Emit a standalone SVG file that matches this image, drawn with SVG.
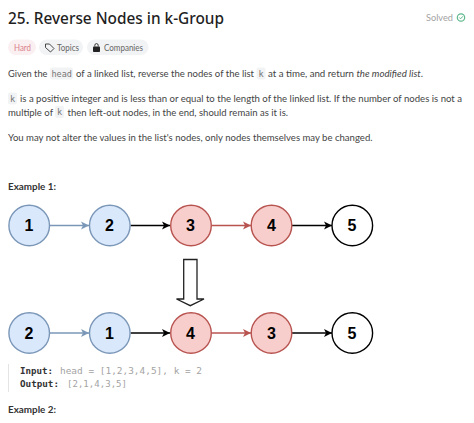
<svg xmlns="http://www.w3.org/2000/svg" width="474" height="423" viewBox="0 0 474 423">
<style>
text{font-family:"Lato","Noto Sans","Liberation Sans",sans-serif}
.b{font-size:10.4px;fill:#444}
.c{font-family:"DejaVu Sans Mono","Liberation Mono",monospace;font-size:8.6px;fill:#777}
.chip{fill:#f2f3f4}
.s{font-size:8.8px;fill:#666}
.bl circle{fill:#dae8fc;stroke:#7b97b8;stroke-width:1.4}
.rd circle{fill:#f8cecc;stroke:#b85450;stroke-width:1.4}
.wh circle{fill:#fff;stroke:#000;stroke-width:1.4}
text.n{font-family:"Liberation Sans",Arial,sans-serif;font-size:16px;font-weight:700;fill:#000;text-anchor:middle}
.ex{font-size:9.8px;font-weight:700;fill:#333}
.m{font-family:"DejaVu Sans Mono","Liberation Mono",monospace;font-size:9.45px;fill:#a3a3a3}
.mb{font-family:"DejaVu Sans Mono","Liberation Mono",monospace;font-size:9.2px;font-weight:700;fill:#333}
.l{fill:none;stroke-width:1.3}
</style>
<defs>
<marker id="ak" markerUnits="userSpaceOnUse" markerWidth="9" markerHeight="10" refX="8" refY="5" orient="auto"><path d="M0 1L8 5L0 9L2 5Z" fill="#000"/></marker>
<marker id="ab" markerUnits="userSpaceOnUse" markerWidth="9" markerHeight="10" refX="8" refY="5" orient="auto"><path d="M0 1L8 5L0 9L2 5Z" fill="#7b97b8"/></marker>
<marker id="ar" markerUnits="userSpaceOnUse" markerWidth="9" markerHeight="10" refX="8" refY="5" orient="auto"><path d="M0 1L8 5L0 9L2 5Z" fill="#b85450"/></marker>
</defs>
<rect width="474" height="423" fill="#fff"/>
<text x="8" y="24" textLength="216" lengthAdjust="spacingAndGlyphs" style="font-size:16.5px;font-weight:500;font-family:'Noto Sans','Lato',sans-serif" fill="#1f1f1f">25. Reverse Nodes in k-Group</text>
<text x="426" y="21" textLength="27" lengthAdjust="spacingAndGlyphs" style="font-size:9.5px" fill="#a3a3a3">Solved</text>
<circle cx="461" cy="17.500" r="3.700" fill="none" stroke="#5cb88a" stroke-width="1.200"/>
<path d="M459.300 17.500l1.300 1.300l2.300-2.500" fill="none" stroke="#5cb88a" stroke-width="1"/>
<rect x="8" y="39.500" width="28" height="15.500" rx="7.700" fill="#fbf0f1"/>
<text class="s" x="14" y="51" textLength="17" lengthAdjust="spacingAndGlyphs" style="fill:#d9808a">Hard</text>
<rect x="39" y="39.500" width="44" height="15.500" rx="7.700" class="chip"/>
<path d="M45.500 44h4l4.500 4.500l-3.500 3.500l-5-4.500Z" fill="none" stroke="#333" stroke-width=".9"/>
<text class="s" x="57" y="51" textLength="22" lengthAdjust="spacingAndGlyphs">Topics</text>
<rect x="87" y="39.500" width="61.500" height="15.500" rx="7.700" class="chip"/>
<rect x="93" y="46.500" width="7" height="5.500" rx=".8" fill="#222"/>
<path d="M94.800 46.500v-1.200a1.700 1.700 0 0 1 3.400 0v1.200" fill="none" stroke="#222" stroke-width=".9"/>
<text class="s" x="104" y="51" textLength="39" lengthAdjust="spacingAndGlyphs">Companies</text>
<rect x="50" y="67.500" width="23" height="12" rx="2" class="chip"/>
<rect x="256.500" y="67.500" width="9" height="12" rx="2" class="chip"/>
<rect x="8" y="92.500" width="9" height="12" rx="2" class="chip"/>
<rect x="55" y="106" width="9" height="12" rx="2" class="chip"/>
<text class="b" x="8" y="77" textLength="39.500" lengthAdjust="spacingAndGlyphs">Given the</text>
<text class="c" x="51.500" y="77" textLength="20.500" lengthAdjust="spacingAndGlyphs">head</text>
<text class="b" x="76" y="77" textLength="178" lengthAdjust="spacingAndGlyphs">of a linked list, reverse the nodes of the list</text>
<text class="c" x="258.500" y="77">k</text>
<text class="b" x="268" y="77" textLength="155" lengthAdjust="spacingAndGlyphs">at a time, and return <tspan font-style="italic">the modified list</tspan>.</text>
<text class="c" x="10" y="101.500">k</text>
<text class="b" x="20" y="102" textLength="442" lengthAdjust="spacingAndGlyphs">is a positive integer and is less than or equal to the length of the linked list. If the number of nodes is not a</text>
<text class="b" x="8" y="115.500" textLength="45" lengthAdjust="spacingAndGlyphs">multiple of</text>
<text class="c" x="57" y="115">k</text>
<text class="b" x="67.500" y="115.500" textLength="220.500" lengthAdjust="spacingAndGlyphs">then left-out nodes, in the end, should remain as it is.</text>
<text class="b" x="8" y="141" textLength="364.500" lengthAdjust="spacingAndGlyphs">You may not alter the values in the list's nodes, only nodes themselves may be changed.</text>
<text class="ex" x="8" y="190" textLength="48" lengthAdjust="spacingAndGlyphs">Example 1:</text>
<g id="connectors">
<path class="l" stroke="#7b97b8" marker-end="url(#ab)" d="M50 225.500H89"/>
<path class="l" stroke="#000" marker-end="url(#ak)" d="M130.500 225.500H170"/>
<path class="l" stroke="#b85450" marker-end="url(#ar)" d="M212 225.500H251"/>
<path class="l" stroke="#000" marker-end="url(#ak)" d="M292 225.500H332"/>
<path class="l" stroke="#7b97b8" marker-end="url(#ab)" d="M50 333H89"/>
<path class="l" stroke="#000" marker-end="url(#ak)" d="M130.500 333H170"/>
<path class="l" stroke="#b85450" marker-end="url(#ar)" d="M212 333H251"/>
<path class="l" stroke="#000" marker-end="url(#ak)" d="M292 333H332"/>
</g>
<g id="n1" class="bl"><circle cx="29.200" cy="225.500" r="20.300"/><text class="n" x="29" y="231.300">1</text></g>
<g id="n2" class="bl"><circle cx="109.800" cy="225.500" r="20.300"/><text class="n" x="109.500" y="231.300">2</text></g>
<g id="n3" class="rd"><circle cx="191" cy="225.500" r="20.300"/><text class="n" x="190.500" y="231.300">3</text></g>
<g id="n4" class="rd"><circle cx="271.500" cy="225.500" r="20.300"/><text class="n" x="271.500" y="231.300">4</text></g>
<g id="n5" class="wh"><circle cx="352.300" cy="225.500" r="20.300"/><text class="n" x="352" y="231.300">5</text></g>
<g id="down-arrow"><path d="M183.700 259.500H197V299H204L190.300 305.700L176.500 299H183.700Z" fill="#fff" stroke="#222" stroke-width="1.300"/></g>
<g id="m1" class="bl"><circle cx="29.200" cy="333" r="20.300"/><text class="n" x="29" y="338.800">2</text></g>
<g id="m2" class="bl"><circle cx="109.800" cy="333" r="20.300"/><text class="n" x="109.500" y="338.800">1</text></g>
<g id="m3" class="rd"><circle cx="191" cy="333" r="20.300"/><text class="n" x="190.500" y="338.800">4</text></g>
<g id="m4" class="rd"><circle cx="271.500" cy="333" r="20.300"/><text class="n" x="271.500" y="338.800">3</text></g>
<g id="m5" class="wh"><circle cx="352.300" cy="333" r="20.300"/><text class="n" x="352" y="338.800">5</text></g>
<rect x="8" y="364" width="1" height="28" fill="#e4e4e4"/>
<text class="mb" x="20" y="374" textLength="33" lengthAdjust="spacingAndGlyphs">Input:</text>
<text class="m" x="60" y="374">head = [1,2,3,4,5], k = 2</text>
<text class="mb" x="20" y="387" textLength="39" lengthAdjust="spacingAndGlyphs">Output:</text>
<text class="m" x="67" y="387" textLength="60" lengthAdjust="spacingAndGlyphs">[2,1,4,3,5]</text>
<text class="ex" x="8" y="413" textLength="48" lengthAdjust="spacingAndGlyphs">Example 2:</text>
</svg>
